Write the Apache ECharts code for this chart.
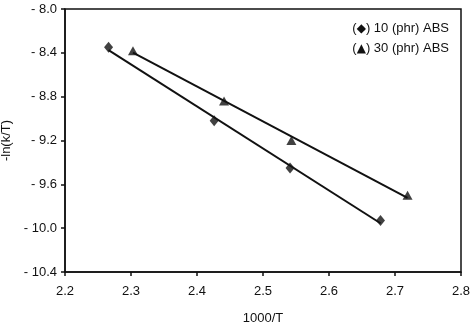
<!DOCTYPE html>
<html>
<head>
<meta charset="utf-8">
<script src="https://cdn.jsdelivr.net/npm/echarts@6/dist/echarts.min.js"></script>
<style>
  html, body { margin: 0; padding: 0; background: #ffffff; }
  #chart { width: 474px; height: 333px; }
</style>
</head>
<body>
<div id="chart"></div>
<script>
// Arrhenius-type plot: -ln(k/T) against 1000/T for two ABS loadings
const seriesNames = ['10 (phr) ABS', '30 (phr) ABS'];
const invT10 = [2.266, 2.426, 2.541, 2.678];
const lnk10 = [-8.35, -9.02, -9.45, -9.93];
const invT30 = [2.303, 2.441, 2.543, 2.719];
const lnk30 = [-8.38, -8.84, -9.20, -9.70];
const xTicks = [2.2, 2.3, 2.4, 2.5, 2.6, 2.7, 2.8];
const yTicks = [-8.0, -8.4, -8.8, -9.2, -9.6, -10.0, -10.4];

// least-squares straight line through a set of points, evaluated at its x range
function fitLine(xs, ys) {
  const n = xs.length;
  const mx = xs.reduce((a, b) => a + b, 0) / n;
  const my = ys.reduce((a, b) => a + b, 0) / n;
  let sxy = 0, sxx = 0;
  for (let i = 0; i < n; i++) {
    sxy += (xs[i] - mx) * (ys[i] - my);
    sxx += (xs[i] - mx) * (xs[i] - mx);
  }
  const slope = sxy / sxx;
  const icpt = my - slope * mx;
  const x0 = Math.min(...xs), x1 = Math.max(...xs);
  return [[x0, icpt + slope * x0], [x1, icpt + slope * x1]];
}

const pairs = (xs, ys) => xs.map((x, i) => [x, ys[i]]);
const fmtY = v => '- ' + Math.abs(v).toFixed(1);

const font = 'Liberation Sans, Arial, sans-serif';
const ink = '#111111';

const legendRich = {
  p: { fontFamily: font, fontSize: 13, fill: ink, color: ink },
  s: { fontFamily: 'DejaVu Sans, sans-serif', fontSize: 12, fill: ink, color: ink }
};

const chart = echarts.init(document.getElementById('chart'));
chart.setOption({
  backgroundColor: '#ffffff',
  animation: false,
  grid: {
    left: 65, top: 9, right: 13, bottom: 61,
    containLabel: false, outerBoundsMode: 'none',
    show: true, borderColor: ink, borderWidth: 1.5
  },
  xAxis: {
    type: 'value', min: 2.2, max: 2.8, interval: 0.1,
    name: '1000/T', nameLocation: 'middle', nameGap: 40,
    nameTextStyle: { fontFamily: font, fontSize: 13, color: ink },
    axisLine: { show: true, lineStyle: { color: ink, width: 1.5 } },
    axisTick: { show: true, inside: false, length: 4, lineStyle: { color: ink, width: 1.5 } },
    axisLabel: { fontFamily: font, fontSize: 13, color: ink, margin: 13, formatter: v => v.toFixed(1) },
    splitLine: { show: false }
  },
  yAxis: {
    type: 'value', min: -10.4, max: -8.0, interval: 0.4,
    name: '-ln(k/T)', nameLocation: 'middle', nameGap: 44, nameRotate: 90,
    nameTextStyle: { fontFamily: font, fontSize: 13, color: ink },
    axisLine: { show: true, lineStyle: { color: ink, width: 1.5 } },
    axisTick: { show: true, inside: false, length: 4, lineStyle: { color: ink, width: 1.5 } },
    axisLabel: { fontFamily: font, fontSize: 13, color: ink, margin: 8, formatter: fmtY },
    splitLine: { show: false }
  },
  series: [
    {
      name: seriesNames[0] + ' fit', type: 'line', data: fitLine(invT10, lnk10),
      symbol: 'none', lineStyle: { color: ink, width: 2 }, z: 2
    },
    {
      name: seriesNames[1] + ' fit', type: 'line', data: fitLine(invT30, lnk30),
      symbol: 'none', lineStyle: { color: ink, width: 2 }, z: 2
    },
    {
      name: seriesNames[0], type: 'scatter', data: pairs(invT10, lnk10),
      symbol: 'diamond', symbolSize: [9, 11], itemStyle: { color: ink }, z: 3
    },
    {
      name: seriesNames[1], type: 'scatter', data: pairs(invT30, lnk30),
      symbol: 'triangle', symbolSize: [10, 9], itemStyle: { color: ink }, z: 3
    }
  ],
  graphic: [
    {
      type: 'text', right: 25, top: 22,
      style: { text: '{p|(}{s|\u25C6}{p|) ' + seriesNames[0] + '}', rich: legendRich }
    },
    {
      type: 'text', right: 25, top: 42,
      style: { text: '{p|(}{s|\u25B2}{p|) ' + seriesNames[1] + '}', rich: legendRich }
    }
  ]
});
</script>
</body>
</html>
